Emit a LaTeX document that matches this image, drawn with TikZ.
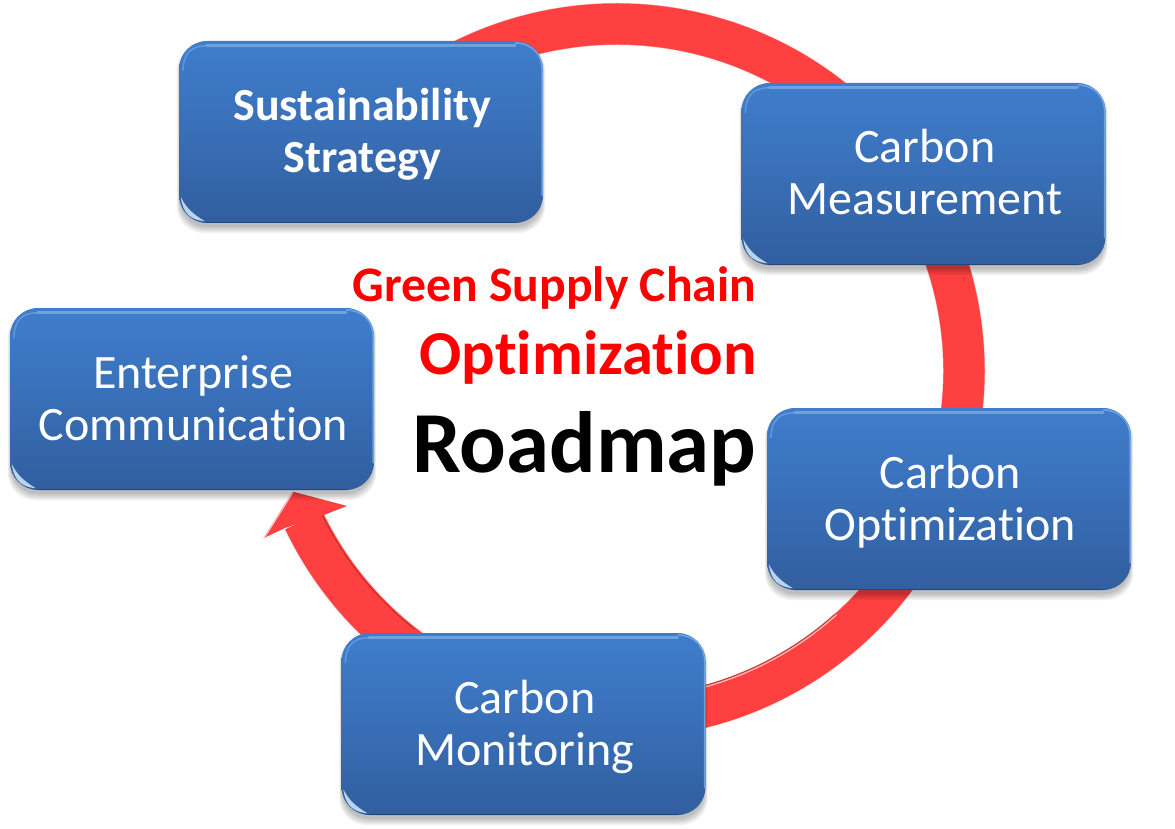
\documentclass[tikz,border=0pt]{standalone}
\usepackage{fontspec}
\setmainfont[Ligatures=NoCommon]{Carlito}
\usetikzlibrary{calc}
\definecolor{ringred}{HTML}{FF4040}
\definecolor{boxtop}{HTML}{3F7DCC}
\definecolor{boxbot}{HTML}{315E9E}
\definecolor{boxlight}{HTML}{7FAFE6}
\definecolor{goalred}{HTML}{FF0000}
\newcommand{\evenline}[1]{\raisebox{-15pt}[0pt][0pt]{\hspace*{2.5pt}#1}}
\tikzset{
  bluebox/.style={rounded corners=28pt,minimum width=364pt,minimum height=182pt,inner sep=0pt,
    top color=boxtop,bottom color=boxbot,middle color=boxtop!55!boxbot,draw=none,
    text=white,align=center,font=\fontsize{48}{52}\selectfont},
  boldbox/.style={bluebox,font=\fontsize{46}{52}\selectfont\bfseries},
  shadowplate/.style={rounded corners=27pt,fill=black,opacity=.055,draw=none},
  ringline/.style={draw=ringred,line width=41pt},
  ringhalo/.style={draw=ringred!45!white,line width=42pt},
  ringdark/.style={draw=ringred!60!black,line width=.9pt,opacity=.65},
  ringglow/.style={draw=white,line width=1.4pt,opacity=.6},
  redtitle/.style={text=goalred,anchor=east,inner sep=0pt,font=\bfseries},
}
\newcommand{\softshadow}[2]{%
  \foreach \g in {0,1,2,3,4}{
    \fill[shadowplate] (#1-181-\g*.8,#2-88) rectangle (#1+181+\g*.8,#2+95+\g*1.5);
  }}
\newcommand{\bevel}[1]{%
  \draw[boxlight,line width=3pt,line cap=round,opacity=.75] ($(#1.north west)+(28,5)$) -- ($(#1.north east)+(-28,5)$);
  \draw[boxlight,line width=1.5pt,opacity=.55] ($(#1.north west)+(4,30)$) .. controls ($(#1.north west)+(5,12)$) and ($(#1.north west)+(12,5)$) .. ($(#1.north west)+(28,5)$);
  \draw[boxlight,line width=1.5pt,opacity=.8] ($(#1.north east)+(-28,2)$) .. controls ($(#1.north east)+(-10,3)$) and ($(#1.north east)+(-1,14)$) .. ($(#1.north east)+(-1,30)$) -- ($(#1.south east)+(-1,-27)$);
  \draw[boxbot!70!black,line width=1.5pt,opacity=.8] ($(#1.south west)+(27,-.5)$) -- ($(#1.south east)+(-27,-.5)$);
  \fill[boxlight!55!white] ($(#1.south west)+(2,-26)$) .. controls ($(#1.south west)+(4,-10)$) and ($(#1.south west)+(12,-3)$) .. ($(#1.south west)+(26,-2)$) .. controls ($(#1.south west)+(16,-8)$) and ($(#1.south west)+(8,-14)$) .. cycle;
}
\begin{document}
\begin{tikzpicture}[x=1pt,y=-1pt]
\useasboundingbox (0,0) rectangle (1175,829);
\fill[white] (0,0) rectangle (1175,829);

\coordinate (hub) at (617,371);
\coordinate (ringstart) at ([shift={(hub)}]-130:347);
\draw[ringhalo] (ringstart) arc[start angle=-130,end angle=154.5,radius=347];
\draw[ringline] (ringstart) arc[start angle=-130,end angle=154.5,radius=347];
\coordinate (glowa) at ([shift={(hub)}]48:328);
\draw[ringglow] (glowa) arc[start angle=48,end angle=85,radius=328];
\coordinate (darka) at ([shift={(hub)}]48:326.5);
\draw[ringdark] (darka) arc[start angle=48,end angle=85,radius=326.5];
\coordinate (glowb) at ([shift={(hub)}]128:328);
\draw[ringdark] (glowb) arc[start angle=128,end angle=154,radius=328];

\coordinate (headouter) at (264,538);
\coordinate (headjointa) at (285,528);
\coordinate (headtip) at (293,492);
\coordinate (headinner) at (346,506);
\coordinate (headjointb) at (323,515);
\fill[ringred] (headjointa) -- (headouter) -- (headtip) -- (headinner) -- (headjointb) -- cycle;
\draw[ringred!35!white,line width=1.5pt] (headouter) -- (headtip);
\draw[ringred!80!black,line width=.8pt,opacity=.6] (headtip) -- (headinner) -- (headjointb);

\foreach \px/\py in {361/132,923.5/174,949/499,523.5/724,192/399}{
  \softshadow{\px}{\py}
}

\node[boldbox] (strategy) at (361,132) {\evenline{Sustainability}\\\evenline{Strategy}};
\node[bluebox] (measure) at (923.5,174) {\evenline{Carbon}\\\evenline{Measurement}};
\node[bluebox] (optim) at (949,499) {\evenline{Carbon}\\\evenline{Optimization}};
\node[bluebox] (monitor) at (523.5,724) {\evenline{Carbon}\\\evenline{Monitoring}};
\node[bluebox] (comm) at (192,399) {\evenline{Enterprise}\\\evenline{Communication}};
\foreach \n in {strategy,measure,optim,monitor,comm}{\bevel{\n}}

\node[redtitle,font=\fontsize{49.7}{50}\selectfont\bfseries] (titlea) at (756.5,288) {Green Supply Chain};
\node[redtitle,font=\fontsize{62.5}{64}\selectfont\bfseries] (titleb) at (757,357) {Optimization};
\node[redtitle,text=black,font=\fontsize{87}{90}\selectfont\bfseries] (titlec) at (756.5,449) {Roadmap};
\end{tikzpicture}
\end{document}
